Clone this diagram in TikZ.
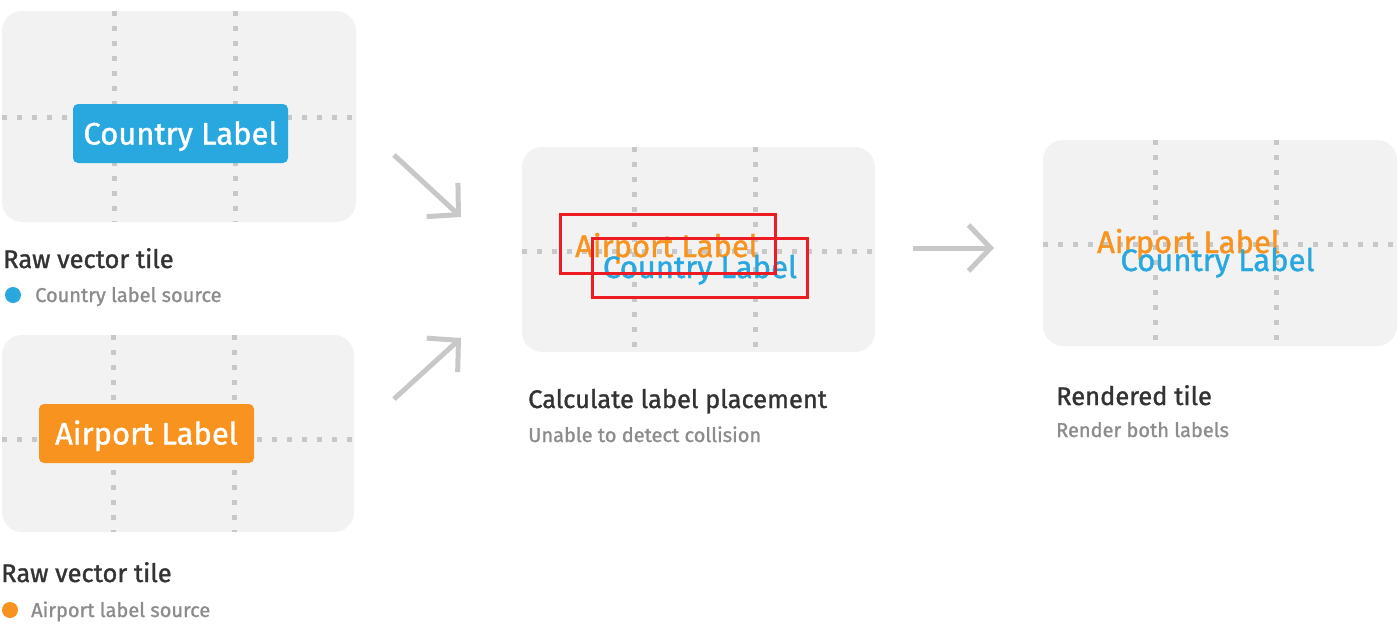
\documentclass[tikz,border=0pt]{standalone}
\usepackage{fontspec}
\setmainfont{Fira Sans}[FakeBold=1.2]
\usetikzlibrary{arrows.meta}
\definecolor{tilebg}{HTML}{F2F2F2}
\definecolor{dotc}{HTML}{C8C8C8}
\definecolor{blu}{HTML}{29A8E0}
\definecolor{org}{HTML}{F7931E}
\definecolor{redc}{HTML}{ED1C24}
\definecolor{arrc}{HTML}{C8C8C8}
\definecolor{ttl}{HTML}{333333}
\definecolor{subc}{HTML}{8C8C8C}
\begin{document}
\begin{tikzpicture}[x=1pt,y=-1pt,
  tile/.style={fill=tilebg, rounded corners=20pt, inner sep=0pt, draw=none},
  gridline/.style={dotc, line width=5pt, dash pattern=on 5pt off 10pt},
  lbl/.style={text=white, font=\fontsize{31}{31}\selectfont, rounded corners=5pt,
    minimum width=215pt, minimum height=59pt, text height=22pt, text depth=0pt, inner sep=0pt},
  redbox/.style={draw=redc, line width=3pt, minimum width=215pt, minimum height=59pt, inner sep=0pt},
  flt/.style={font=\fontsize{31}{31}\selectfont, inner sep=0pt, anchor=base},
  ttltext/.style={text=ttl, font=\fontsize{25.5}{25.5}\selectfont, inner sep=0pt, anchor=base west},
  subtext/.style={text=subc, font=\fontsize{20}{20}\selectfont, inner sep=0pt, anchor=base west},
  dotnode/.style={circle, minimum size=16pt, inner sep=0pt},
  arrowst/.style={arrc, line width=5pt, -{Straight Barb[length=22pt,width=46pt]}}
]
\useasboundingbox (0,0) rectangle (1400,633);

% Tile 1
\node[tile, minimum width=354pt, minimum height=211pt] (t1) at (179,116.5) {};
\draw[gridline] (114,11) -- (114,222);
\draw[gridline] (235,11) -- (235,222);
\draw[gridline] (2,117) -- (356,117);
\node[lbl, fill=blu] (cl1) at (180.5,133.5) {Country Label};
\node[ttltext] (h1) at (3,268) {Raw vector tile};
\node[dotnode, fill=blu] (d1) at (13,295) {};
\node[subtext] (s1) at (35,302) {Country label source};

% Tile 2
\node[tile, minimum width=352pt, minimum height=197pt] (t2) at (178,433.5) {};
\draw[gridline] (113,335) -- (113,532);
\draw[gridline] (234,335) -- (234,532);
\draw[gridline] (2,439) -- (354,439);
\node[lbl, fill=org] (al2) at (146.5,433.5) {Airport Label};
\node[ttltext] (h2) at (1,582) {Raw vector tile};
\node[dotnode, fill=org] (d2) at (10,610) {};
\node[subtext] (s2) at (31,617) {Airport label source};

% Tile 3
\node[tile, minimum width=353pt, minimum height=205pt] (t3) at (698.5,249.5) {};
\draw[gridline] (634,147) -- (634,352);
\draw[gridline] (755,147) -- (755,352);
\draw[gridline] (522,251) -- (875,251);
\node[flt, text=org] (al3) at (666.5,257) {Airport Label};
\node[flt, text=blu] (cl3) at (700,278) {Country Label};
\node[redbox] (r1) at (667.5,243.5) {};
\node[redbox] (r2) at (700,267.5) {};
\node[ttltext] (h3) at (528,408) {Calculate label placement};
\node[subtext] (s3) at (528,442) {Unable to detect collision};

% Tile 4
\node[tile, minimum width=354pt, minimum height=206pt] (t4) at (1220,243) {};
\draw[gridline] (1155,140) -- (1155,346);
\draw[gridline] (1276,140) -- (1276,346);
\draw[gridline] (1043,244) -- (1397,244);
\node[flt, text=org] (al4) at (1188.5,253) {Airport Label};
\node[flt, text=blu] (cl4) at (1217.5,271) {Country Label};
\node[ttltext] (h4) at (1056,405) {Rendered tile};
\node[subtext] (s4) at (1056,437) {Render both labels};

% Arrows
\coordinate (a1s) at (394,155);
\coordinate (a1e) at (461,217);
\coordinate (a2s) at (394,399);
\coordinate (a2e) at (461,338);
\coordinate (a3s) at (913,248);
\coordinate (a3e) at (994,248);
\draw[arrowst] (a1s) -- (a1e);
\draw[arrowst] (a2s) -- (a2e);
\draw[arrowst] (a3s) -- (a3e);
\end{tikzpicture}
\end{document}
